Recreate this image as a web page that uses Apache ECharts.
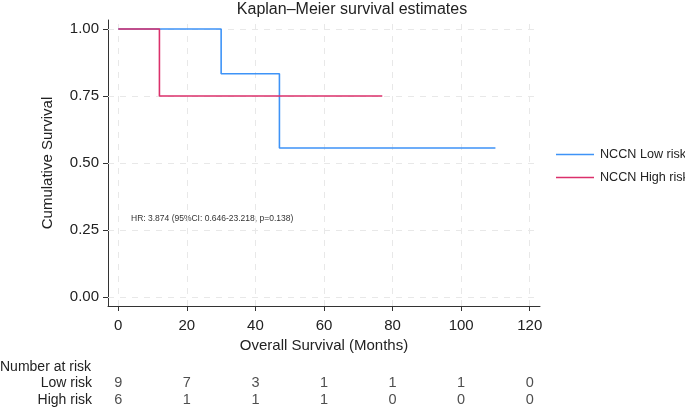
<!DOCTYPE html>
<html><head><meta charset="utf-8">
<script src="https://cdn.jsdelivr.net/npm/echarts@6/dist/echarts.min.js"></script>
<style>html,body{margin:0;padding:0;background:#fff}#c{width:685px;height:409px}</style>
</head><body><div id="c"></div>
<script>
const lowTimes = [0, 30, 47, 110];
const lowSurv = [1, 0.833, 0.556, 0.556];
const highTimes = [0, 12, 77];
const highSurv = [1, 0.75, 0.75];
const xTicks = [0, 20, 40, 60, 80, 100, 120];
const yTicks = [0, 0.25, 0.5, 0.75, 1];
const riskTimes = [0, 20, 40, 60, 80, 100, 120];
const lowRisk = [9, 7, 3, 1, 1, 1, 0];
const highRisk = [6, 1, 1, 1, 0, 0, 0];
const riskRows = ['High risk', 'Low risk'];
const seriesNames = ['NCCN Low risk', 'NCCN High risk'];

const FONT = 'Liberation Sans, Arial, sans-serif';
const BLUE = '#3E93F7';
const RED = '#DB306B';
const chart = echarts.init(document.getElementById('c'));
const gridStyle = {type: [6, 6], color: '#e8e8e8', width: 1};
const gridLines = xTicks.map(v => ({xAxis: v})).concat(yTicks.map(v => ({yAxis: v})));

const riskData = [];
riskTimes.forEach((t, i) => {
  riskData.push([t, 'Low risk', lowRisk[i]]);
  riskData.push([t, 'High risk', highRisk[i]]);
});

chart.setOption({
  animation: false,
  textStyle: {fontFamily: FONT},
  title: {
    text: 'Kaplan\u2013Meier survival estimates', left: 347, textAlign: 'center', top: -3,
    textStyle: {fontFamily: FONT, fontSize: 16, fontWeight: 'normal', color: '#222'}
  },
  legend: {
    orient: 'vertical', left: 551, top: 143, itemWidth: 38, itemHeight: 10, itemGap: 10,
    icon: 'path://M0,4.3 L38,4.3 L38,5.7 L0,5.7 Z',
    data: seriesNames,
    textStyle: {fontFamily: FONT, fontSize: 12.6, color: '#222', padding: [0, 0, 0, 1]}
  },
  graphic: [
    {type: 'text', left: 0, top: 360, style: {text: 'Number at risk', font: '14px ' + FONT, fill: '#222'}},
    {type: 'text', left: 131, top: 214, style: {text: 'HR: 3.874 (95%CI: 0.646-23.218, p=0.138)', font: '8.5px ' + FONT, fill: '#333'}}
  ],
  grid: [
    {left: 108, right: 145, top: 20, bottom: 103},
    {left: 108, right: 145, top: 374.5, height: 34}
  ],
  xAxis: [
    {
      type: 'value', gridIndex: 0, min: -3, max: 123,
      name: 'Overall Survival (Months)', nameLocation: 'middle', nameGap: 30,
      nameTextStyle: {fontFamily: FONT, fontSize: 15, color: '#222'},
      axisLine: {show: true, onZero: false, lineStyle: {color: '#333', width: 1}},
      axisTick: {show: true, customValues: xTicks, length: 5, lineStyle: {color: '#333'}},
      axisLabel: {customValues: xTicks, fontSize: 15, color: '#222', margin: 12},
      splitLine: {show: false}
    },
    {
      type: 'value', gridIndex: 1, min: -3, max: 123,
      axisLine: {show: false}, axisTick: {show: false}, axisLabel: {show: false}, splitLine: {show: false}
    }
  ],
  yAxis: [
    {
      type: 'value', gridIndex: 0, min: -0.0336, max: 1.0336,
      name: 'Cumulative Survival', nameLocation: 'middle', nameGap: 53,
      nameTextStyle: {fontFamily: FONT, fontSize: 15, color: '#222'},
      axisLine: {show: true, onZero: false, lineStyle: {color: '#333', width: 1}},
      axisTick: {show: true, customValues: yTicks, length: 5, lineStyle: {color: '#333'}},
      axisLabel: {customValues: yTicks, fontSize: 15, color: '#222', margin: 9, formatter: v => v.toFixed(2)},
      splitLine: {show: false}
    },
    {
      type: 'category', gridIndex: 1, data: riskRows,
      axisLine: {show: false}, axisTick: {show: false}, splitLine: {show: false},
      axisLabel: {interval: 0, hideOverlap: false, fontSize: 14, color: '#222', margin: 16, align: 'right'}
    }
  ],
  series: [
    {
      name: 'grid', type: 'line', data: [], xAxisIndex: 0, yAxisIndex: 0, silent: true, z: 0, zlevel: 0,
      markLine: {silent: true, symbol: 'none', label: {show: false}, lineStyle: gridStyle, data: gridLines, animation: false}
    },
    {
      name: seriesNames[0], type: 'line', step: 'end', showSymbol: false, symbol: 'none', z: 10, zlevel: 1,
      data: lowTimes.map((t, i) => [t, lowSurv[i]]),
      lineStyle: {color: BLUE, width: 1.6}, itemStyle: {color: BLUE}
    },
    {
      name: seriesNames[1], type: 'line', step: 'end', showSymbol: false, symbol: 'none', z: 10, zlevel: 1,
      data: highTimes.map((t, i) => [t, highSurv[i]]),
      lineStyle: {color: RED, width: 1.6}, itemStyle: {color: RED}
    },
    {
      name: 'risk', type: 'scatter', xAxisIndex: 1, yAxisIndex: 1, symbolSize: 0, silent: true,
      data: riskData,
      label: {show: true, position: 'inside', formatter: p => String(p.value[2]), fontSize: 14.5, color: '#222', fontFamily: FONT}
    }
  ]
});
</script></body></html>
